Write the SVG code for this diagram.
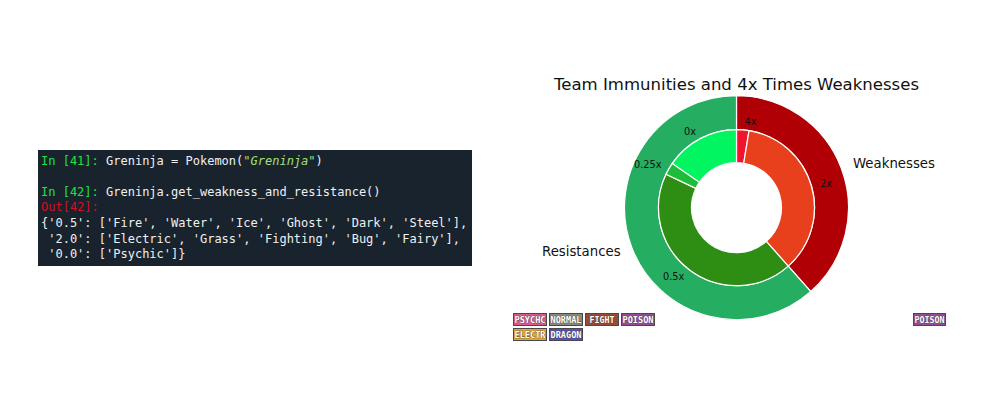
<svg xmlns="http://www.w3.org/2000/svg" width="994" height="410" viewBox="0 0 994 410">
<style>
.c{font:12px "DejaVu Sans Mono",monospace;fill:#f0f0f0;white-space:pre}
.g{fill:#22e040}.r{fill:#d01020}.s{fill:#a8e070;font-style:italic}
.t{font-family:"DejaVu Sans",sans-serif;fill:#111}
.lab{font-size:13.3px}.sm{font-size:9.8px}
.w{stroke:#fff;stroke-width:1.2}
.bt{font:bold 9px "DejaVu Sans Mono",monospace;fill:#fff;stroke:#333;stroke-width:.6;paint-order:stroke;text-anchor:middle}
.b{stroke:#4a4650;stroke-width:1}
</style>
<rect width="994" height="410" fill="#fff"/>
<g id="code">
<rect x="38" y="150" width="434" height="116" fill="#18232e"/>
<text class="c" x="41" y="164.5"><tspan class="g">In [41]:</tspan> Greninja = Pokemon(<tspan class="s">"Greninja"</tspan>)</text>
<text class="c" x="41" y="195.5"><tspan class="g">In [42]:</tspan> Greninja.get_weakness_and_resistance()</text>
<text class="c r" x="41" y="211">Out[42]:</text>
<text class="c" x="41" y="227">{'0.5': ['Fire', 'Water', 'Ice', 'Ghost', 'Dark', 'Steel'],</text>
<text class="c" x="41" y="242.5"> '2.0': ['Electric', 'Grass', 'Fighting', 'Bug', 'Fairy'],</text>
<text class="c" x="41" y="258"> '0.0': ['Psychic']}</text>
</g>
<g id="chart">
<text class="t" x="736.5" y="90" font-size="16" text-anchor="middle" textLength="365" lengthAdjust="spacingAndGlyphs">Team Immunities and 4x Times Weaknesses</text>
<g id="outer-ring">
<path class="w" fill="#b00006" d="M736.5 95.7A112 112 0 0 1 810.77 291.53L788.22 266.08A78 78 0 0 0 736.5 129.7Z"/>
<path class="w" fill="#25ae62" d="M810.77 291.53A112 112 0 1 1 736.5 95.7V129.7A78 78 0 1 0 788.22 266.08Z"/>
</g>
<g id="inner-ring">
<path class="w" fill="#f0142f" d="M736.5 129.7A78 78 0 0 1 749.01 130.71L743.72 163.28A45 45 0 0 0 736.5 162.7Z"/>
<path class="w" fill="#e8401c" d="M749.01 130.71A78 78 0 0 1 788.22 266.08L766.34 241.38A45 45 0 0 0 743.72 163.28Z"/>
<path class="w" fill="#2e8e14" d="M788.22 266.08A78 78 0 0 1 666.03 174.27L695.84 188.41A45 45 0 0 0 766.34 241.38Z"/>
<path class="w" fill="#1fbb3b" d="M666.03 174.27A78 78 0 0 1 672.31 163.39L699.47 182.14A45 45 0 0 0 695.84 188.41Z"/>
<path class="w" fill="#00f561" d="M672.31 163.39A78 78 0 0 1 736.5 129.7V162.7A45 45 0 0 0 699.47 182.14Z"/>
</g>
<g id="labels">
<text class="t lab" x="853" y="168">Weaknesses</text>
<text class="t lab" x="542" y="255.5">Resistances</text>
<text class="t sm" x="744.5" y="125">4x</text>
<text class="t sm" x="820" y="187">2x</text>
<text class="t sm" x="684" y="135">0x</text>
<text class="t sm" x="634" y="168">0.25x</text>
<text class="t sm" x="663" y="280">0.5x</text>
</g>
</g>
<g id="badge-psychic"><rect class="b" x="513.5" y="313.5" width="33" height="12" fill="#d85a88"/><text class="bt" x="530" y="322.5" textLength="31" lengthAdjust="spacingAndGlyphs">PSYCHC</text></g>
<g id="badge-normal"><rect class="b" x="549.5" y="313.5" width="33" height="12" fill="#8a8a7c"/><text class="bt" x="566" y="322.5" textLength="31" lengthAdjust="spacingAndGlyphs">NORMAL</text></g>
<g id="badge-fight"><rect class="b" x="585.5" y="313.5" width="33" height="12" fill="#964a38"/><text class="bt" x="602" y="322.5" textLength="25" lengthAdjust="spacingAndGlyphs">FIGHT</text></g>
<g id="badge-poison"><rect class="b" x="621.5" y="313.5" width="33" height="12" fill="#8f4f92"/><text class="bt" x="638" y="322.5" textLength="31" lengthAdjust="spacingAndGlyphs">POISON</text></g>
<g id="badge-electr"><rect class="b" x="513.5" y="328.5" width="33" height="12" fill="#e0a82c"/><text class="bt" x="530" y="337.5" textLength="31" lengthAdjust="spacingAndGlyphs">ELECTR</text></g>
<g id="badge-dragon"><rect class="b" x="549.5" y="328.5" width="33" height="12" fill="#5a50b0"/><text class="bt" x="566" y="337.5" textLength="31" lengthAdjust="spacingAndGlyphs">DRAGON</text></g>
<g id="badge-poison-2"><rect class="b" x="913.5" y="313.5" width="32" height="12" fill="#8f4f92"/><text class="bt" x="929.5" y="322.5" textLength="30" lengthAdjust="spacingAndGlyphs">POISON</text></g>
</svg>
